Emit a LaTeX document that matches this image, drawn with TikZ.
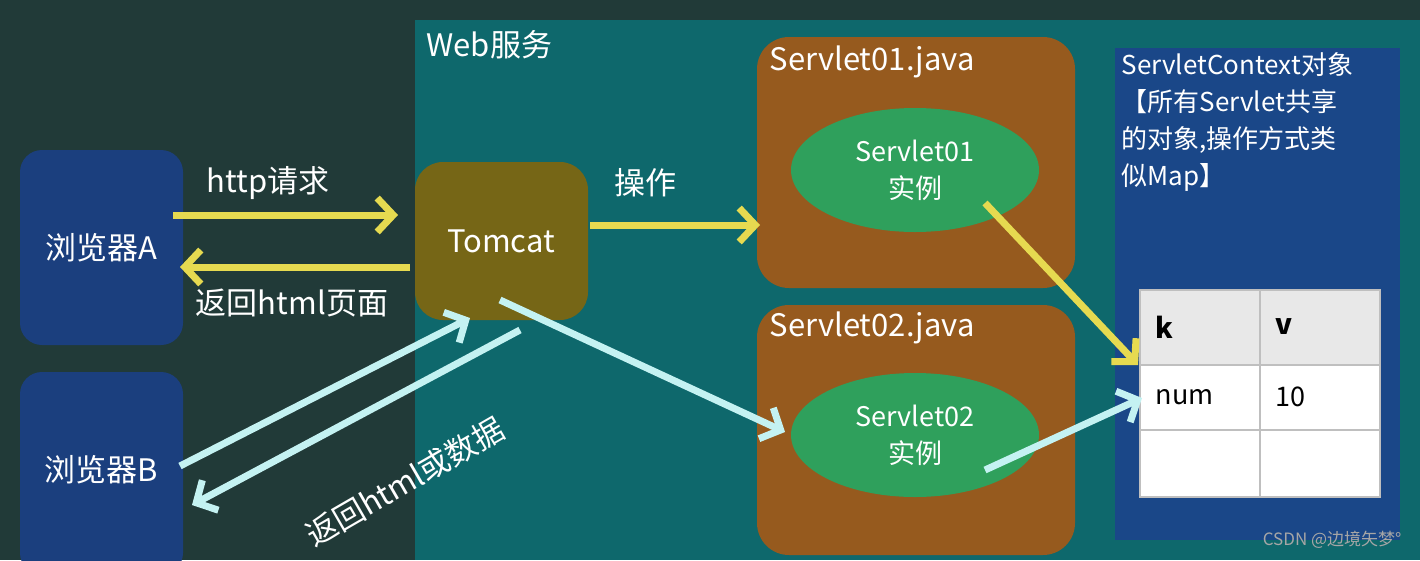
\documentclass[tikz,border=0pt]{standalone}
\usepackage{fontspec}
\setmainfont{Noto Sans CJK SC}
\usetikzlibrary{arrows.meta}
\definecolor{board}{HTML}{213A38}
\definecolor{teal}{HTML}{0E686C}
\definecolor{navy}{HTML}{1B3F7E}
\definecolor{olive}{HTML}{766616}
\definecolor{brown}{HTML}{965A1E}
\definecolor{leaf}{HTML}{2FA05C}
\definecolor{ctx}{HTML}{1A4788}
\definecolor{yel}{HTML}{E6DA50}
\definecolor{cy}{HTML}{C4F2F2}
\tikzset{
 lbl/.style={text=white,font=\fontsize{31}{34}\selectfont},
 ya/.style={yel,line width=7pt,-{Straight Barb[length=16pt,width=34pt]}},
 ca/.style={cy,line width=7pt,-{Straight Barb[length=16pt,width=34pt]}},
}
\begin{document}
\begin{tikzpicture}[x=1pt,y=-1pt]
\useasboundingbox (0,0) rectangle (1420,560);
\clip (0,0) rectangle (1420,560);
\fill[board] (0,0) rectangle (1420,560);
\fill[teal] (415,20) rectangle (1420,560);
\fill[navy,rounded corners=22pt] (20,150) rectangle (183,345);
\node[lbl] (ba) at (101,248) {浏览器A};
\fill[navy,rounded corners=22pt] (20,372) rectangle (183,575);
\node[lbl] (bb) at (101,470) {浏览器B};
\fill[olive,rounded corners=28pt] (415,162) rectangle (588,320);
\node[lbl] (tc) at (501,241) {Tomcat};
\node[lbl,anchor=west] (web) at (423,45) {Web服务};
\fill[brown,rounded corners=32pt] (757,37) rectangle (1075,288);
\fill[brown,rounded corners=32pt] (757,305) rectangle (1075,555);
\node[lbl,anchor=west] (s1t) at (766,62) {Servlet01.java};
\node[lbl,anchor=west] (s2t) at (766,328) {Servlet02.java};
\fill[leaf] (915,170) ellipse [x radius=124, y radius=62];
\fill[leaf] (915,435) ellipse [x radius=124, y radius=62];
\node[lbl,align=center,font=\fontsize{27}{37}\selectfont] (e1) at (915,170) {Servlet01\\实例};
\node[lbl,align=center,font=\fontsize{27}{37}\selectfont] (e2) at (915,435) {Servlet02\\实例};
\fill[ctx] (1115,48) rectangle (1400,540);
\node[lbl,anchor=north west,align=left,font=\fontsize{26}{37}\selectfont] (ct) at (1118,49) {ServletContext对象\\【所有Servlet共享\\的对象,操作方式类\\似Map】};
\fill[white] (1140,290) rectangle (1380,497);
\fill[black!9] (1140,290) rectangle (1380,365);
\draw[black!25,line width=1.5pt] (1140,365) -- (1380,365) (1140,430) -- (1380,430) (1260,290) -- (1260,497) (1140,290) rectangle (1380,497);
\node[font=\fontsize{28}{30}\selectfont\bfseries,anchor=west] (k) at (1152,327) {k};
\node[font=\fontsize{28}{30}\selectfont\bfseries,anchor=west] (v) at (1272,327) {v};
\node[font=\fontsize{27}{30}\selectfont,anchor=west] (num) at (1152,397) {num};
\node[font=\fontsize{27}{30}\selectfont,anchor=west] (ten) at (1272,397) {10};
\coordinate (t1) at (1138,365);
\coordinate (t2) at (1142,398);
\draw[ya] (173,215) -- (398,215);
\draw[ya] (410,267) -- (180,267);
\draw[ya] (590,225) -- (760,225);
\draw[ya] (985,203) -- (t1);
\draw[ca] (180,466) -- (470,318);
\draw[ca] (520,330) -- (192,505);
\draw[ca] (500,300) -- (785,432);
\draw[ca] (985,470) -- (t2);
\node[lbl] (hq) at (268,183) {http请求};
\node[lbl] (fh) at (292,303) {返回html页面};
\node[lbl] (cz) at (645,183) {操作};
\node[lbl,rotate=30,inner sep=0] (fd) at (405,482) {返回html或数据};
\node[text=black!35,font=\fontsize{17}{18}\selectfont,anchor=east] (wm) at (1405,540) {CSDN @边境矢梦°};
\end{tikzpicture}
\end{document}
